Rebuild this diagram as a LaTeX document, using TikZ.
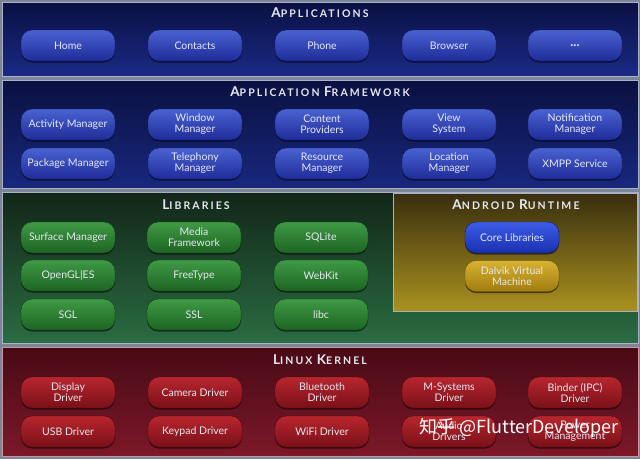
\documentclass[tikz,border=0pt]{standalone}
\usepackage{fontspec}
\setmainfont{Lato}
\newfontfamily\titlefont{Lato}[LetterSpace=20]
\newfontfamily\cjkfont{Noto Sans CJK SC}
\usetikzlibrary{shadows}
\definecolor{bgray}{HTML}{7C8698}
\definecolor{pborder}{HTML}{A8B2C4}
\definecolor{txt}{HTML}{E6E8F2}
\definecolor{bTop}{HTML}{4A62D2}
\definecolor{bBot}{HTML}{1E2C98}
\definecolor{gTop}{HTML}{3E9A44}
\definecolor{gBot}{HTML}{1E6424}
\definecolor{rTop}{HTML}{B8262E}
\definecolor{rBot}{HTML}{7A1018}
\definecolor{yTop}{HTML}{D8B230}
\definecolor{yBot}{HTML}{A07C10}
\definecolor{cTop}{HTML}{3C5CE8}
\definecolor{cBot}{HTML}{1A30B0}
\newcommand\sct[2]{{\fontsize{13.5}{13.5}\selectfont #1}{\fontsize{10.5}{10.5}\selectfont #2}}
\tikzset{
  panel/.style={draw=pborder, line width=1pt},
  ttl/.style={text=txt, font=\titlefont\bfseries, inner sep=0pt},
  btn/.style={rounded corners=11pt, minimum width=94pt, minimum height=31pt,
    inner sep=0pt, align=center, text=txt, font=\fontsize{10.5}{11}\selectfont,
    drop shadow={shadow xshift=0pt, shadow yshift=-1.5pt, fill=black, opacity=0.55}},
  bluebtn/.style={btn, top color=bTop, bottom color=bBot, draw=bBot!60!black, line width=0.4pt},
  corebtn/.style={btn, top color=cTop, bottom color=cBot, draw=cBot!60!black, line width=0.4pt},
  greenbtn/.style={btn, top color=gTop, bottom color=gBot, draw=gBot!60!black, line width=0.4pt},
  redbtn/.style={btn, top color=rTop, bottom color=rBot, draw=rBot!60!black, line width=0.4pt},
  yelbtn/.style={btn, top color=yTop, bottom color=yBot, draw=yBot!60!black, line width=0.4pt},
}
\begin{document}
\begin{tikzpicture}[x=1pt, y=-1pt]
\useasboundingbox (0,0) rectangle (640,459);
\fill[bgray] (0,0) rectangle (640,459);
% panels
\shade[panel, top color={rgb,255:red,10;green,16;blue,66}, bottom color={rgb,255:red,26;green,42;blue,134}] (2,2) rectangle (638,76);
\shade[panel, top color={rgb,255:red,10;green,16;blue,64}, bottom color={rgb,255:red,24;green,40;blue,126}] (2,80) rectangle (638,188);
\shade[panel, top color={rgb,255:red,18;green,38;blue,24}, bottom color={rgb,255:red,42;green,108;blue,66}] (2,192) rectangle (638,343);
\shade[panel, top color={rgb,255:red,56;green,46;blue,14}, bottom color={rgb,255:red,170;green,146;blue,32}] (393,193) rectangle (637,311);
\shade[panel, draw={rgb,255:red,200;green,150;blue,160}, top color={rgb,255:red,72;green,10;blue,22}, bottom color={rgb,255:red,124;green,24;blue,40}] (2,347) rectangle (638,456);
% titles
\node[ttl] (tApps) at (320,13) {\sct{A}{PPLICATIONS}};
\node[ttl] (tFw) at (320,92) {\sct{A}{PPLICATION} \sct{F}{RAMEWORK}};
\node[ttl] (tLib) at (196,205) {\sct{L}{IBRARIES}};
\node[ttl] (tRt) at (516,205) {\sct{A}{NDROID} \sct{R}{UNTIME}};
\node[ttl] (tKer) at (320,360) {\sct{L}{INUX} \sct{K}{ERNEL}};
% applications
\node[bluebtn] (home) at (68,45.5) {Home};
\node[bluebtn] (contacts) at (195,45.5) {Contacts};
\node[bluebtn] (phone) at (322,45.5) {Phone};
\node[bluebtn] (browser) at (449,45.5) {Browser};
\node[bluebtn] (more) at (575,45.5) {\fontsize{13}{13}\selectfont\textbf{...}};
% framework
\node[bluebtn] (act) at (68,124.5) {Activity Manager};
\node[bluebtn] (win) at (195,124.5) {Window\\Manager};
\node[bluebtn] (cont) at (322,124.5) {Content\\Providers};
\node[bluebtn] (view) at (449,124.5) {View\\System};
\node[bluebtn] (notif) at (575,124.5) {Notification\\Manager};
\node[bluebtn] (pack) at (68,163.5) {Package Manager};
\node[bluebtn] (tel) at (195,163.5) {Telephony\\Manager};
\node[bluebtn] (res) at (322,163.5) {Resource\\Manager};
\node[bluebtn] (loc) at (449,163.5) {Location\\Manager};
\node[bluebtn] (xmpp) at (575,163.5) {XMPP Service};
% libraries
\node[greenbtn] (surf) at (68,237.5) {Surface Manager};
\node[greenbtn] (media) at (194,237.5) {Media\\Framework};
\node[greenbtn] (sqlite) at (321,237.5) {SQLite};
\node[greenbtn] (ogl) at (68,275.5) {OpenGL|ES};
\node[greenbtn] (ft) at (194,275.5) {FreeType};
\node[greenbtn] (wk) at (321,275.5) {WebKit};
\node[greenbtn] (sgl) at (68,314.5) {SGL};
\node[greenbtn] (ssl) at (194,314.5) {SSL};
\node[greenbtn] (libc) at (321,314.5) {libc};
% runtime
\node[corebtn] (core) at (512,237.5) {Core Libraries};
\node[yelbtn] (dalvik) at (512,276) {Dalvik Virtual\\Machine};
% kernel
\node[redbtn] (disp) at (68,392.5) {Display\\Driver};
\node[redbtn] (cam) at (195,392.5) {Camera Driver};
\node[redbtn] (bt) at (322,392.5) {Bluetooth\\Driver};
\node[redbtn] (msys) at (449,392.5) {M-Systems\\Driver};
\node[redbtn] (binder) at (575,392.5) {Binder (IPC)\\Driver};
\node[redbtn] (usb) at (68,431.5) {USB Driver};
\node[redbtn] (key) at (195,431.5) {Keypad Driver};
\node[redbtn] (wifi) at (322,431.5) {WiFi Driver};
\node[redbtn] (audio) at (449,431.5) {Audio\\Drivers};
\node[redbtn] (power) at (575,431.5) {Power\\Management};
% watermark
\node[text=white, font=\cjkfont\fontsize{18}{18}\selectfont, inner sep=0pt] (wm) at (519,428) {知乎 @FlutterDeveloper};
\end{tikzpicture}
\end{document}
